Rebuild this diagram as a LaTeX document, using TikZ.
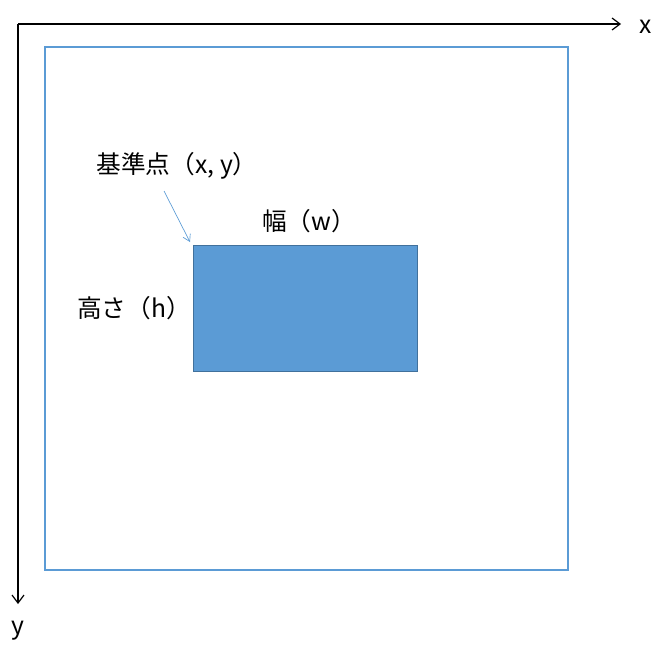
\documentclass[tikz,border=0pt]{standalone}
\usepackage{fontspec}
\setmainfont{Noto Sans CJK JP}
\usetikzlibrary{arrows.meta}
\definecolor{paleblue}{HTML}{5B9BD5}
\definecolor{edgeblue}{HTML}{41719C}

\begin{document}
\begin{tikzpicture}[x=0.75pt, y=-0.75pt]
			\tikzset{axis/.style={draw=black, line width=0.9pt, -{Straight Barb[length=6pt, width=9pt]}},
				lab/.style={inner sep=0pt, font=\fontsize{18.5}{20}\selectfont}}
			\useasboundingbox (0,0) rectangle (666,654);
			
			\coordinate (o) at (18,24);
			\coordinate (x_end) at (621,24);
			\coordinate (y_end) at (18,604);
			\node[lab] (x_lab) at (646,27) {x};
			\node[lab] (y_lab) at (18,631) {y};
			
			\draw[axis] (o) -- (x_end);
			\draw[axis] (o) -- (y_end);
			
			\draw[paleblue, line width=1.5pt] (45,47) rectangle (568,570);
			\node[draw=edgeblue, fill=paleblue, line width=1pt, inner sep=0pt, anchor=north west,
				minimum width=168pt, minimum height=94.5pt] (rect) at (193,245) {};
			
			\node[lab] (base) at (177,166) {基準点（x, y）};
			\node[lab] (w_lab) at (309,221) {幅（w）};
			\node[lab] (h_lab) at (134,308) {高さ（h）};
			
			\coordinate (tip) at (190,242);
			\draw[paleblue, line width=0.5pt, -{Straight Barb[length=5pt, width=6pt]}] (164,191) -- (tip);
			
		\end{tikzpicture}
\end{document}
